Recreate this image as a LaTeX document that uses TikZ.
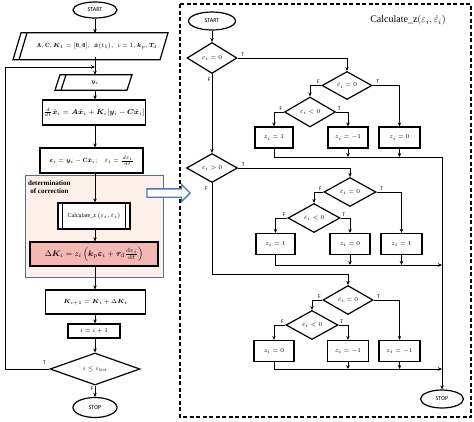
\documentclass[tikz,border=0pt]{standalone}
\usepackage{amsmath,bm}
\usepackage{fontspec}
\setsansfont{Carlito}
\newfontfamily\tnr{Liberation Serif}
\usetikzlibrary{shapes.geometric,shapes.arrows,arrows.meta,calc}
\definecolor{regfill}{HTML}{FDF0E8}
\definecolor{regblue}{HTML}{4F6F9F}
\definecolor{dkfill}{HTML}{F4B8B4}
\definecolor{arrblue}{HTML}{4A78C0}
\tikzset{
 box/.style={draw, line width=1.2pt, fill=white, inner sep=1pt, font=\fontsize{6}{7}\selectfont},
 rbox/.style={box, minimum height=21pt, font=\fontsize{6.5}{7.5}\selectfont},
 dia/.style={diamond, draw, line width=1.2pt, fill=white, inner sep=0pt, font=\fontsize{6.5}{7.5}\selectfont},
 term/.style={ellipse, draw, line width=1.2pt, fill=white, inner sep=0pt, font=\sffamily\fontsize{6}{7}\selectfont},
 arr/.style={-{Stealth[length=4pt,width=3.5pt]}, line width=0.8pt},
 conn/.style={line width=0.8pt},
 lbl/.style={font=\sffamily\fontsize{5.5}{6.5}\selectfont, inner sep=1.5pt},
 shp/.style={line width=1.2pt},
}
\begin{document}
\begin{tikzpicture}[x=1pt,y=-1pt]
\useasboundingbox (0,0) rectangle (474,421);
% ---------- right frame ----------
\draw[line width=1.2pt, dash pattern=on 4pt off 2.5pt] (180,4) rectangle (471,417);
\node[font=\tnr\fontsize{10}{12}\selectfont] (title) at (408,20) {Calculate\_z$(\varepsilon_i,\dot\varepsilon_i)$};
% ---------- left column ----------
\coordinate (spine) at (95,0);
\node[draw=regblue, fill=regfill, line width=1pt, minimum width=138pt, minimum height=102pt, inner sep=0pt] (region) at (94,226) {};
\node[font=\tnr\bfseries\fontsize{7}{8}\selectfont, align=center, anchor=north west, inner sep=0pt] (regtitle) at (28,180) {determination\\of correction};

\node[term, minimum width=44pt, minimum height=16pt] (start) at (95,10) {START};
\node[minimum width=120pt, minimum height=20pt, inner sep=0pt, font=\fontsize{6.2}{7}\selectfont] (inp) at (97,46.5) {$\mathbf{A},\mathbf{C},\bm{K}_1 = [\mathbf{0},\mathbf{0}],\ \hat{\bm{x}}(t_1),\ i = 1, \bm{k}_{\mathrm{p}}, \bm{T}_{\mathrm{d}}$};
\draw[shp] ([xshift=-74pt]inp.north -| spine) ++(0,-3.5) coordinate (pa1) -- ++(147,0) -- ++(-8,27) -- ++(-147,0) -- cycle;
\draw[shp] ($(pa1)+(6,0)$) -- ++(-8,27);

\node[minimum width=60pt, minimum height=15pt, inner sep=0pt, font=\fontsize{6.5}{7}\selectfont] (yi) at (95,82.5) {$\bm{y}_i$};
\draw[shp] ([xshift=-35pt]yi.north) -- ([xshift=37pt]yi.north) -- ([xshift=32pt]yi.south) -- ([xshift=-40pt]yi.south) -- cycle;
\draw[shp] ([xshift=-29pt]yi.north) -- ([xshift=-34pt]yi.south);

\node[box, minimum width=98pt, minimum height=25pt, font=\fontsize{7}{8}\selectfont] (dxdt) at (94,112.5) {$\frac{d}{dt}\hat{\bm x}_i = \bm A\hat{\bm x}_i + \bm K_i[\bm y_i - \bm C\hat{\bm x}_i]$};
\node[box, minimum width=103pt, minimum height=25pt] (eps) at (91.5,160.5) {$\bm\varepsilon_i = \bm y_i - \mathbf C\hat{\bm x}_i;\quad \dot\varepsilon_i = \frac{d\varepsilon_i}{dt}$};
\node[box, minimum width=72pt, minimum height=26pt, font=\tnr\fontsize{6}{7}\selectfont] (calc) at (94,216) {Calculate\_z $(\varepsilon_i,\dot\varepsilon_i)$};
\draw[shp] ([xshift=5pt]calc.north west) -- ([xshift=5pt]calc.south west);
\draw[shp] ([xshift=-5pt]calc.north east) -- ([xshift=-5pt]calc.south east);
\node[box, fill=dkfill, minimum width=128pt, minimum height=24pt, font=\fontsize{8}{9}\selectfont] (dK) at (94,254) {$\Delta\bm K_i = z_i\left(\bm k_{\mathrm p}\bm\varepsilon_i + \bm\tau_{\mathrm d}\frac{\mathrm d\varepsilon_i}{\mathrm dt}\right)$};
\node[box, minimum width=100pt, minimum height=24pt] (Knext) at (95.5,302) {$\bm K_{i+1} = \bm K_i + \Delta\bm K_i$};
\node[box, minimum width=52pt, minimum height=14pt] (inc) at (94,331) {$i = i+1$};
\node[dia, minimum width=90pt, minimum height=32pt] (cond) at (95,369) {$i \leq i_{\mathit{last}}$};
\node[term, minimum width=44pt, minimum height=20pt] (stop) at (95,407.5) {STOP};

\coordinate (loopL) at (5,0);
\coordinate (loopin) at (95,67);
\coordinate (inpS) at (95,60);
\coordinate (inpN) at (95,33);
\draw[arr] (start.south) -- (inpN);
\draw[conn] (inp.south -| spine) -- (inpS);
\draw[arr] (inpS) -- (yi.north);
\draw[arr] (cond.west) -- (cond.west -| loopL) |- (loopin);
\draw[arr] (yi.south) -- (dxdt.north -| spine);
\draw[arr] (dxdt.south -| spine) -- (eps.north -| spine);
\draw[arr] (eps.south -| spine) -- (calc.north -| spine);
\draw[arr] (calc.south -| spine) -- (dK.north -| spine);
\draw[arr] (dK.south -| spine) -- (Knext.north -| spine);
\draw[arr] (Knext.south -| spine) -- (inc.north -| spine);
\draw[arr] (inc.south -| spine) -- (cond.north);
\draw[arr] (cond.south) -- (stop.north);
\node[lbl, anchor=south east, xshift=-2pt, yshift=3pt] (tl) at (cond.west) {T};
\node[lbl, anchor=north east] (fl) at (cond.south) {F};

\node[single arrow, draw=arrblue, line width=1.3pt, fill=white, minimum height=43pt, inner xsep=0pt, inner ysep=3.5pt, single arrow head extend=4.5pt] (barrow) at (166.5,193) {};

% ---------- right flowchart ----------
\node[term, minimum width=47pt, minimum height=18pt] (rstart) at (212,21) {START};
\node[dia, minimum width=50pt, minimum height=31pt] (d1) at (212,58) {$\varepsilon_i = 0$};
\node[dia, minimum width=50pt, minimum height=28pt] (d2) at (347,85.5) {$\dot\varepsilon_i = 0$};
\node[dia, minimum width=51pt, minimum height=30pt] (d3) at (310,112) {$\dot\varepsilon_i < 0$};
\node[rbox, minimum width=38pt] (r1a) at (274,137.5) {$z_i = 1$};
\node[rbox, minimum width=40pt] (r1b) at (348,137.5) {$z_i = -1$};
\node[rbox, minimum width=41pt] (r1c) at (399.5,137.5) {$z_i = 0$};

\node[dia, minimum width=51pt, minimum height=29pt] (d4) at (212,168) {$\varepsilon_i > 0$};
\node[dia, minimum width=52pt, minimum height=29pt] (d5) at (350,192) {$\dot\varepsilon_i = 0$};
\node[dia, minimum width=52pt, minimum height=29pt] (d6) at (314,218) {$\dot\varepsilon_i < 0$};
\node[rbox, minimum width=39pt] (r2a) at (275.5,244) {$z_i = 1$};
\node[rbox, minimum width=40pt] (r2b) at (350,244) {$z_i = 0$};
\node[rbox, minimum width=41pt] (r2c) at (401.5,244) {$z_i = 1$};

\node[dia, minimum width=50pt, minimum height=29pt] (d7) at (348,300) {$\dot\varepsilon_i = 0$};
\node[dia, minimum width=52pt, minimum height=29pt] (d8) at (312,325) {$\dot\varepsilon_i < 0$};
\node[rbox, minimum width=40pt] (r3a) at (274,351) {$z_i = 0$};
\node[rbox, minimum width=41pt] (r3b) at (348,351) {$z_i = -1$};
\node[rbox, minimum width=41pt] (r3c) at (399.5,351) {$z_i = -1$};

\node[term, minimum width=43pt, minimum height=18pt] (rstop) at (442,399) {STOP};

\coordinate (merge1) at (442,157);
\coordinate (merge2) at (442,265);
\coordinate (merge3) at (442,369);
\coordinate (j4) at (212,274);

\draw[arr] (rstart.south) -- (d1.north);
\draw[arr] (d1.east) -| (d2.north);
\draw[arr] (d1.south) -- (d4.north);
\draw[arr] (d2.west) -| (d3.north);
\draw[arr] (d2.east) -| (r1c.north);
\draw[arr] (d3.west) -| (r1a.north);
\draw[arr] (d3.east) -| (r1b.north);
\draw[conn] (r1a.south) |- (merge1);
\draw[arr] (r1b.south) -- (r1b.south |- merge1);
\draw[arr] (r1c.south) -- (r1c.south |- merge1);
\draw[arr] (merge1) -- (rstop.north);

\draw[arr] (d4.east) -| (d5.north);
\draw[arr] (d4.south) -- (j4) -| (d7.north);
\draw[arr] (d5.west) -| (d6.north);
\draw[arr] (d5.east) -| (r2c.north);
\draw[arr] (d6.west) -| (r2a.north);
\draw[arr] (d6.east) -| (r2b.north);
\draw[arr] (r2a.south) |- (merge2);
\draw[arr] (r2b.south) -- (r2b.south |- merge2);
\draw[arr] (r2c.south) -- (r2c.south |- merge2);

\draw[arr] (d7.west) -| (d8.north);
\draw[arr] (d7.east) -| (r3c.north);
\draw[arr] (d8.west) -| (r3a.north);
\draw[arr] (d8.east) -| (r3b.north);
\draw[arr] (r3a.south) |- (merge3);
\draw[arr] (r3b.south) -- (r3b.south |- merge3);
\draw[arr] (r3c.south) -- (r3c.south |- merge3);

% labels
\node[lbl, anchor=south west, xshift=2pt] (l1t) at (d1.east) {T};
\node[lbl, anchor=north east, yshift=-2pt] (l1f) at (d1.south) {F};
\node[lbl, anchor=south east] (l2f) at (d2.west) {F};
\node[lbl, anchor=south west, xshift=2pt] (l2t) at (d2.east) {T};
\node[lbl, anchor=south east] (l3f) at (d3.west) {F};
\node[lbl, anchor=south west] (l3t) at (d3.east) {T};
\node[lbl, anchor=south west, xshift=2pt] (l4t) at (d4.east) {T};
\node[lbl, anchor=north east, xshift=-3pt, yshift=-2pt] (l4f) at (d4.south) {F};
\node[lbl, anchor=south east] (l5f) at (d5.west) {F};
\node[lbl, anchor=south west, xshift=2pt] (l5t) at (d5.east) {T};
\node[lbl, anchor=south east] (l6f) at (d6.west) {F};
\node[lbl, anchor=south west] (l6t) at (d6.east) {T};
\node[lbl, anchor=south east] (l7f) at (d7.west) {F};
\node[lbl, anchor=south west, xshift=2pt] (l7t) at (d7.east) {T};
\node[lbl, anchor=south east] (l8f) at (d8.west) {F};
\node[lbl, anchor=south west] (l8t) at (d8.east) {T};
\end{tikzpicture}
\end{document}
